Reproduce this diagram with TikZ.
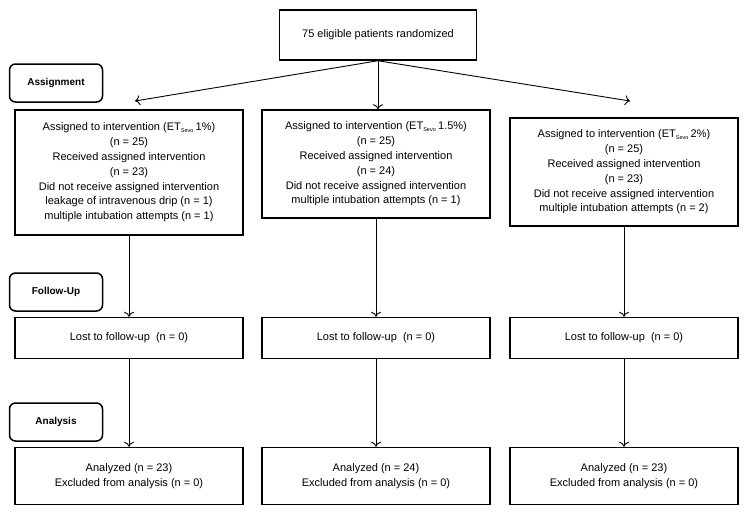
\documentclass[tikz,border=0pt]{standalone}
\usepackage{fontspec}
\setmainfont{Liberation Sans}
\usetikzlibrary{positioning,calc,arrows.meta}
\tikzset{
  box/.style={draw, line width=1.5pt, minimum width=228pt, align=center, inner sep=2pt, font=\fontsize{11}{14.8}\selectfont},
  stage/.style={draw, line width=1.5pt, rounded corners=6pt, minimum width=93pt, minimum height=38pt, font=\fontsize{10}{12}\selectfont\bfseries},
  arr/.style={-{To[length=5pt,width=10pt]}, line width=0.9pt}
}
\newcommand{\ets}[1]{ET\textsubscript{\fontsize{5.5}{5.5}\selectfont Sevo}\,#1}
\begin{document}
\begin{tikzpicture}[x=1pt,y=-1pt]
  \useasboundingbox (0,0) rectangle (750,525);
  \node[box, minimum width=197pt, minimum height=50pt] (top) at (378,35) {75 eligible patients randomized};
  \node[stage] (assign) at (56,83) {Assignment};
  \node[stage] (follow) at (56,292) {Follow-Up};
  \node[stage] (anal) at (56,422) {Analysis};

  % assignment boxes
  \node[box, minimum height=125pt] (a1) at (129,172.5) {Assigned to intervention (\ets{1\%})\\(n = 25)\\Received assigned intervention\\(n = 23)\\Did not receive assigned intervention\\leakage of intravenous drip (n = 1)\\multiple intubation attempts (n = 1)};
  \node[box, minimum height=108pt] (a2) at (376,164) {Assigned to intervention (\ets{1.5\%})\\(n = 25)\\Received assigned intervention\\(n = 24)\\Did not receive assigned intervention\\multiple intubation attempts (n = 1)};
  \node[box, minimum height=108pt] (a3) at (624,172) {Assigned to intervention (\ets{2\%})\\(n = 25)\\Received assigned intervention\\(n = 23)\\Did not receive assigned intervention\\multiple intubation attempts (n = 2)};

  % follow-up boxes
  \node[box, minimum height=41pt] (f1) at (129,338) {Lost to follow-up~ (n = 0)};
  \node[box, minimum height=41pt] (f2) at (376,338) {Lost to follow-up~ (n = 0)};
  \node[box, minimum height=41pt] (f3) at (624,338) {Lost to follow-up~ (n = 0)};

  % analysis boxes
  \node[box, minimum height=57pt] (n1) at (129,476) {Analyzed (n = 23)\\Excluded from analysis (n = 0)};
  \node[box, minimum height=57pt] (n2) at (376,476) {Analyzed (n = 24)\\Excluded from analysis (n = 0)};
  \node[box, minimum height=57pt] (n3) at (624,476) {Analyzed (n = 23)\\Excluded from analysis (n = 0)};

  \coordinate (t1) at (135,101);
  \coordinate (t3) at (630,101);
  \draw[arr] (top.south) -- (t1);
  \draw[arr] (top.south) -- (t3);
  \draw[arr] (top.south) -- (top.south |- a2.north);
  \foreach \i in {1,2,3} {
    \draw[arr] (a\i.south) -- (f\i.north);
    \draw[arr] (f\i.south) -- (n\i.north);
  }
\end{tikzpicture}
\end{document}
